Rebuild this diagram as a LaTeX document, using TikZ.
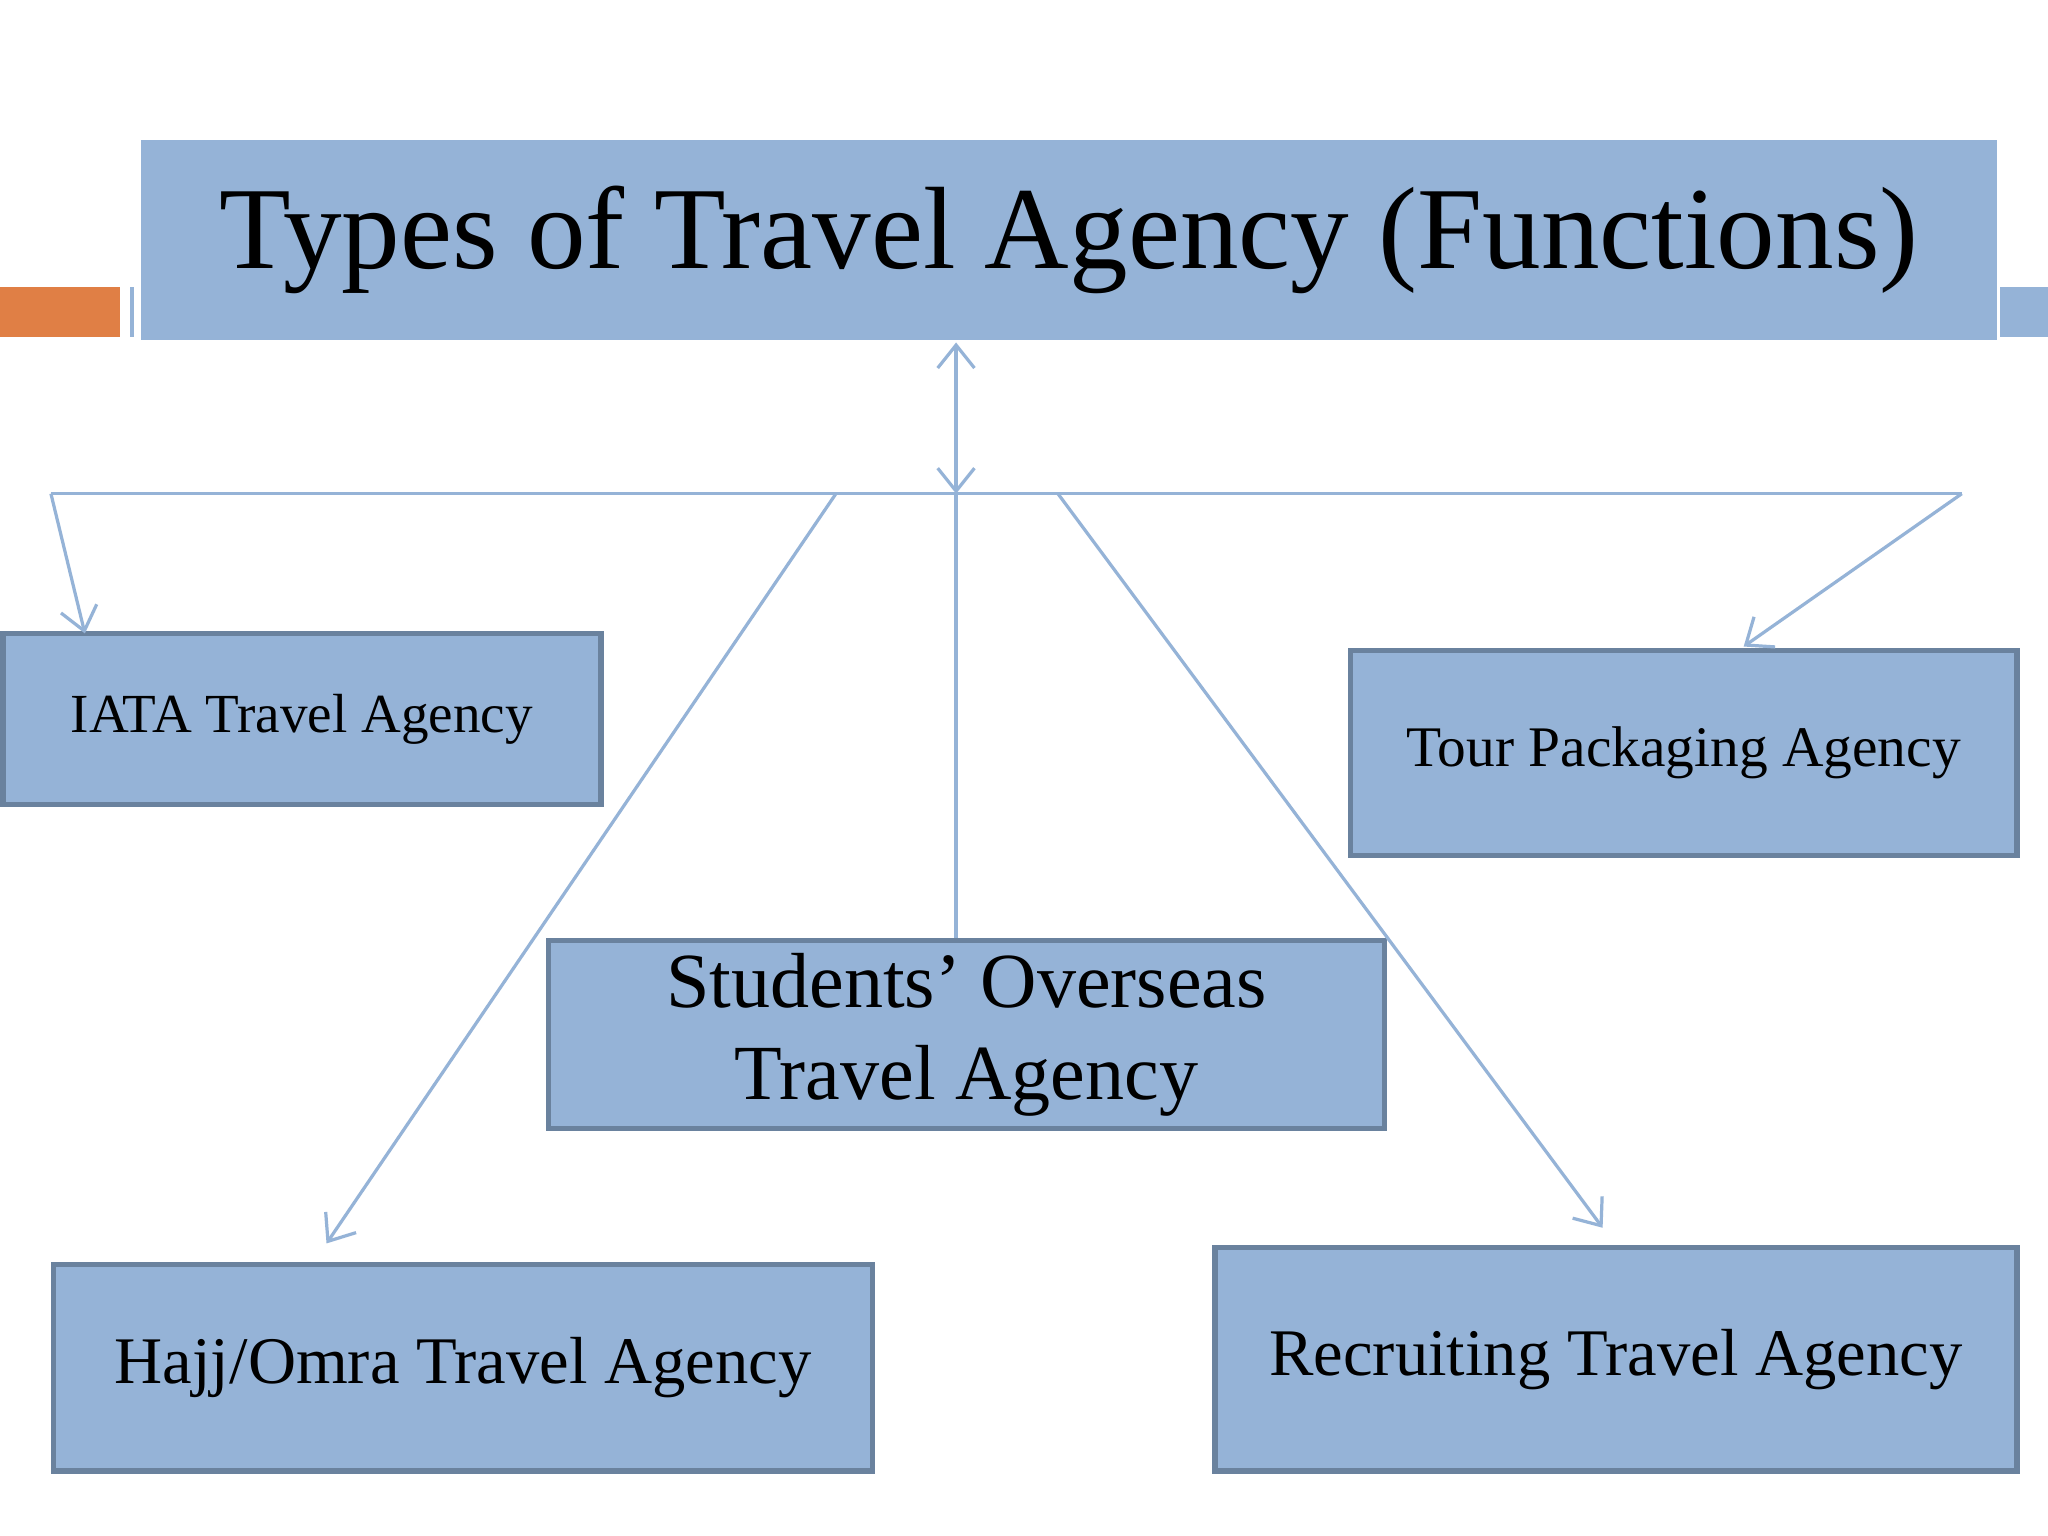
\documentclass[tikz,border=0pt]{standalone}
\usepackage{fontspec}
\setmainfont{Liberation Serif}
\usetikzlibrary{arrows.meta}
\begin{document}
\begin{tikzpicture}[x=0.01cm,y=-0.01cm,
  box/.style={draw=boxedge,fill=boxfill,line width=1.2pt,anchor=north west,inner sep=0pt,align=center},
  conn/.style={draw=boxfill,line width=0.7pt},
  arr/.style={conn,-{Straight Barb[length=5pt,width=8pt]}}]
\definecolor{boxfill}{HTML}{95B3D7}
\definecolor{boxedge}{HTML}{6A829E}
\definecolor{orangebar}{HTML}{E07F45}
\useasboundingbox[fill=white] (0,0) rectangle (1568,1176);
\fill[orangebar] (0,220) rectangle (92,258);
\draw[boxfill,line width=0.8pt] (101,220) -- (101,258);
\fill[boxfill] (1531,220) rectangle (1568,258);
\node[box,draw=none,minimum width=1421*0.01cm,minimum height=153*0.01cm,font=\fontsize{25.5}{28}\selectfont] (title) at (106,105) {Types of Travel Agency (Functions)};
\node[box,minimum width=458*0.01cm,minimum height=131*0.01cm,font=\fontsize{12}{14}\selectfont] (iata) at (0,483) {IATA Travel Agency};
\node[box,minimum width=510*0.01cm,minimum height=157*0.01cm,font=\fontsize{12.5}{15}\selectfont] (tour) at (1032,496) {Tour Packaging Agency};
\node[box,minimum width=640*0.01cm,minimum height=144*0.01cm,font=\fontsize{17}{20}\selectfont] (stud) at (418,718) {Students' Overseas\\Travel Agency};
\node[box,minimum width=627*0.01cm,minimum height=158*0.01cm,font=\fontsize{14.5}{17}\selectfont] (hajj) at (39,966) {Hajj/Omra Travel Agency};
\node[box,minimum width=614*0.01cm,minimum height=171*0.01cm,font=\fontsize{14.5}{17}\selectfont] (recr) at (928,953) {Recruiting Travel Agency};
\coordinate (hub) at (732,378);
\coordinate (hl) at (39,378);
\coordinate (hr) at (1502,378);
\coordinate (p1) at (640,378);
\coordinate (p2) at (810,378);
\coordinate (t1) at (65,485);
\coordinate (t2) at (250,952);
\coordinate (t3) at (1227,940);
\coordinate (t4) at (1335,495);
\draw[conn,{Straight Barb[length=5pt,width=8pt]}-{Straight Barb[length=5pt,width=8pt]}] (title.south -| hub) -- (hub);
\draw[conn] (hl) -- (hr);
\draw[arr] (hl) -- (t1);
\draw[arr] (p1) -- (t2);
\draw[conn] (hub) -- (stud.north -| hub);
\draw[arr] (p2) -- (t3);
\draw[arr] (hr) -- (t4);
\end{tikzpicture}
\end{document}
